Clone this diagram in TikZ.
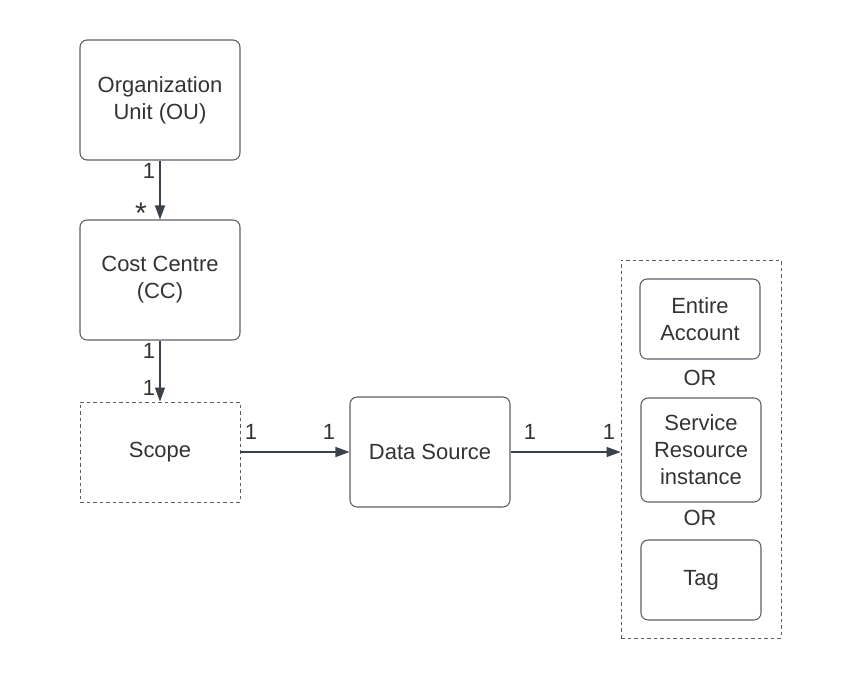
\documentclass[tikz,border=0pt]{standalone}
\usepackage{fontspec}
\setmainfont{Liberation Sans}
\usetikzlibrary{arrows.meta,positioning}
\definecolor{lineclr}{HTML}{3A414A}
\definecolor{boxclr}{HTML}{5A5F66}
\definecolor{txtclr}{HTML}{333333}

\begin{document}
\begin{tikzpicture}[x=0.02cm, y=-0.02cm, >={Triangle[length=0.28cm, width=0.2cm]},
  every node/.style={font=\fontsize{12.5pt}{15.3pt}\selectfont, text=txtclr},
  entity/.style={draw=boxclr, line width=0.6pt, rounded corners=4pt, align=center, inner sep=0pt},
  scopebox/.style={draw=boxclr, line width=0.5pt, dash pattern=on 2pt off 1.7pt, align=center, inner sep=0pt},
  link/.style={->, draw=lineclr, line width=0.7pt}]

\path[use as bounding box] (0,0) rectangle (842,681);

% Left column
\node[entity, minimum width=3.2cm, minimum height=2.4cm] (ou) at (160,100) {Organization\\Unit (OU)};
\node[entity, minimum width=3.2cm, minimum height=2.4cm] (cc) at (160,280) {Cost Centre\\(CC)};
\node[scopebox, minimum width=3.2cm, minimum height=2.0cm] (scope) at (160,452) {Scope};

% Middle
\node[entity, minimum width=3.2cm, minimum height=2.2cm] (ds) at (430,452) {Data Source};

% Right group (dashed container)
\node[scopebox, minimum width=3.2cm, minimum height=7.56cm] (grp) at (701,449) {};
\node[entity, minimum width=2.4cm, minimum height=1.6cm] (acct) at (700,319) {Entire\\Account};
\node (or1) at (700,378) {OR};
\node[entity, minimum width=2.4cm, minimum height=2.08cm] (sri) at (701,450) {Service\\Resource\\instance};
\node (or2) at (700,518) {OR};
\node[entity, minimum width=2.4cm, minimum height=1.6cm] (tag) at (701,580) {Tag};

% Connectors
\draw[link] (ou.south) -- (cc.north);
\draw[link] (cc.south) -- (scope.north);
\draw[link] (scope.east) -- (ds.west);
\draw[link] (ds.east) -- (ds.east -| grp.west);

% Multiplicities
\node (m1) at (149,171) {1};
\node[font=\fontsize{17pt}{18pt}\selectfont] (m2) at (141,213) {*};
\node (m3) at (149,351) {1};
\node (m4) at (149,388) {1};
\node (m5) at (251,432) {1};
\node (m6) at (329,432) {1};
\node (m7) at (530,432) {1};
\node (m8) at (609,432) {1};
\end{tikzpicture}
\end{document}
